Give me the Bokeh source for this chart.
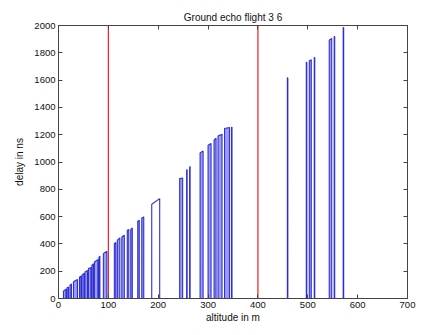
from bokeh.plotting import figure
from bokeh.models import Range1d, LinearAxis, FixedTicker, CustomJSTickFormatter
from bokeh.embed import file_html
from bokeh.resources import INLINE

# Ground echo blocks: altitude start/end (m) and delay at start/end (ns)
alt_start = [10, 17, 23, 30, 42, 47, 53, 60, 67, 72, 81, 90,
             112, 118, 127, 138, 145, 159, 167, 187,
             243, 257, 263, 284, 300, 312, 320, 333, 347,
             459, 497, 503, 513, 543, 553, 571]
alt_end = [15, 20, 26, 38, 45, 51, 58, 65, 70, 79, 83, 97,
           115, 123, 132, 141, 148, 162, 171, 203,
           249, 258, 264, 290, 306, 316, 328, 343, 348,
           460, 498, 507, 514, 548, 554, 572]
delay_start = [54, 78, 98, 122, 156, 171, 195, 220, 244, 268, 298, 329,
               403, 427, 451, 500, 507, 566, 590, 690,
               878, 940, 960, 1067, 1123, 1160, 1191, 1245, 1253,
               1616, 1731, 1740, 1765, 1892, 1919, 1985]
delay_end = [68, 85, 107, 139, 163, 183, 205, 227, 254, 285, 312, 346,
             410, 444, 463, 505, 517, 573, 598, 732,
             883, 945, 968, 1081, 1135, 1174, 1204, 1253, 1256,
             1616, 1731, 1750, 1765, 1905, 1919, 1985]
marker_alts = [100, 400]
x_ticks = [0, 100, 200, 300, 400, 500, 600, 700]
y_ticks = [0, 200, 400, 600, 800, 1000, 1200, 1400, 1600, 1800, 2000]

FONT = "Liberation Sans"
BLUE = "#3030d0"
FILL = "#9c9cf0"

p = figure(width=448, height=335, output_backend="svg", toolbar_location=None,
           x_range=Range1d(0, 700), y_range=Range1d(0, 2000),
           min_border_left=58, min_border_right=41, min_border_top=25,
           min_border_bottom=37, background_fill_color="white",
           border_fill_color="white")
p.title.text = "Ground echo flight 3 6"
p.title.align = "center"
p.title.text_font = FONT
p.title.text_font_size = "10px"
p.title.text_font_style = "normal"
p.title.text_color = "#111111"
p.title.standoff = 5
p.title.offset = 0
p.xgrid.visible = False
p.ygrid.visible = False
p.outline_line_color = "#444444"

# filled blocks (dense echoes)
xs, ys = [], []
for a1, a2, d1, d2 in zip(alt_start, alt_end, delay_start, delay_end):
    if a2 - a1 < 15:
        xs.append([a1, a1, a2, a2])
        ys.append([0, d1, d2, 0])
p.patches(xs, ys, fill_color=FILL, line_color=None)

# line path
lx, ly = [], []
for a1, a2, d1, d2 in zip(alt_start, alt_end, delay_start, delay_end):
    lx += [a1, a1, a2, a2]
    ly += [0, d1, d2, 0]
p.line(lx, ly, line_color=BLUE, line_width=1.1)

# red markers
p.segment(x0=marker_alts, y0=[0] * len(marker_alts), x1=marker_alts,
          y1=[2000] * len(marker_alts), line_color="#e8201c", line_width=1.2)

for ax in (p.xaxis[0], p.yaxis[0]):
    ax.major_tick_in = 4
    ax.major_tick_out = 0
    ax.minor_tick_line_color = None
    ax.axis_line_color = "#444444"
    ax.major_tick_line_color = "#444444"
    ax.major_label_text_font = FONT
    ax.major_label_text_font_size = "9.5px"
    ax.major_label_text_color = "#111111"
    ax.axis_label_text_font = FONT
    ax.axis_label_text_font_size = "10px"
    ax.axis_label_text_font_style = "normal"
    ax.axis_label_text_color = "#111111"
p.xaxis.ticker = FixedTicker(ticks=x_ticks)
p.yaxis.ticker = FixedTicker(ticks=y_ticks)
p.xaxis.axis_label = "altitude in m"
p.yaxis.axis_label = "delay in ns"
p.xaxis.major_label_standoff = 3
p.xaxis.axis_label_standoff = 1
p.yaxis.major_label_standoff = 3
p.yaxis.axis_label_standoff = 6

blank = CustomJSTickFormatter(code="return '';")
top = LinearAxis(ticker=FixedTicker(ticks=x_ticks), formatter=blank)
right = LinearAxis(ticker=FixedTicker(ticks=y_ticks), formatter=blank)
for ax in (top, right):
    ax.major_tick_in = 4
    ax.major_tick_out = 0
    ax.minor_tick_line_color = None
    ax.axis_line_color = "#444444"
    ax.major_tick_line_color = "#444444"
    ax.major_label_text_font_size = "1px"
    ax.major_label_standoff = 0
p.add_layout(top, "above")
p.add_layout(right, "right")

open("out.html", "w").write(file_html(p, INLINE))
